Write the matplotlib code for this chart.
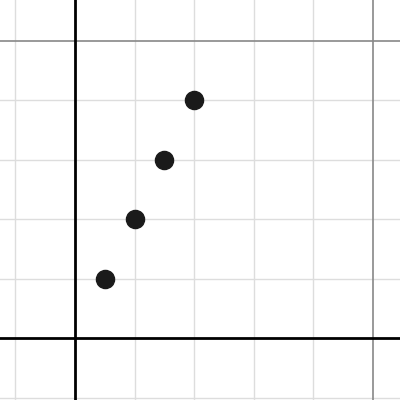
import matplotlib
matplotlib.use("Agg")
import matplotlib.pyplot as plt
import numpy as np

xs = [0.5, 1.0, 1.5, 2.0]
ys = [1, 2, 3, 4]

fig = plt.figure(figsize=(4, 4), dpi=100)
ax = fig.add_axes([0, 0, 1, 1])
u = 59.5
ax.set_xlim(-75/u, (400-75)/u)
ax.set_ylim(-(400-338)/u, 338/u)
for v in range(-1, 6):
    if v == 0:
        continue
    c = '#888888' if v % 5 == 0 else '#dddddd'
    lw = 1.2 if v % 5 == 0 else 1.0
    ax.axvline(v, color=c, lw=lw, zorder=0)
    ax.axhline(v, color=c, lw=lw, zorder=0)
ax.axvline(0, color='black', lw=2, zorder=1)
ax.axhline(0, color='black', lw=2, zorder=1)
ax.scatter(xs, ys, s=170, color='#1a1a1a', zorder=3)
ax.set_xticks([]); ax.set_yticks([])
for s in ax.spines.values():
    s.set_visible(False)
fig.savefig("out.png", dpi=100)
